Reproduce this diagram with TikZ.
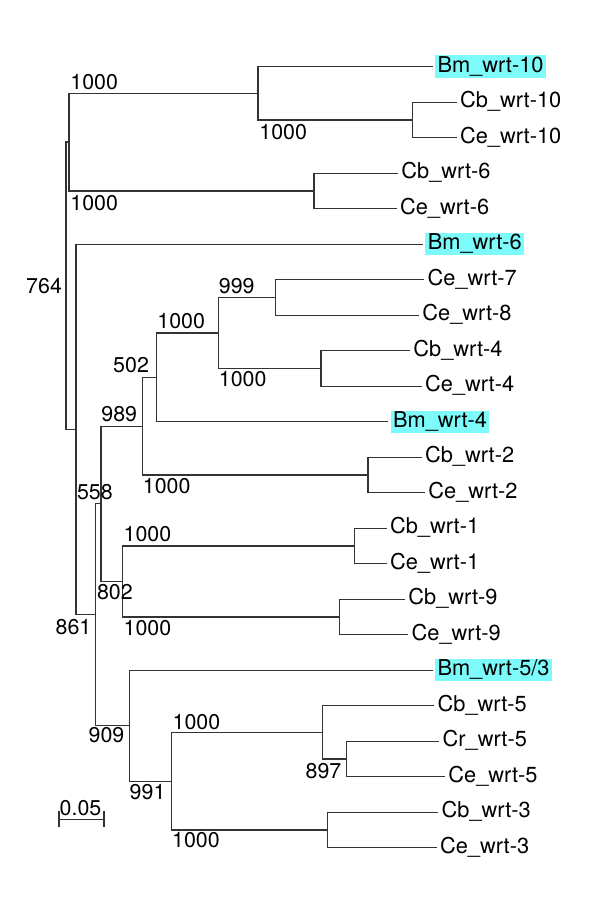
\documentclass[tikz,border=0pt]{standalone}
\usepackage{fontspec}
\setmainfont{TeX Gyre Heros}
\begin{document}
\begin{tikzpicture}[x=0.5pt,y=-0.5pt,
    branch/.style={line width=0.6pt, black!80},
    leaf/.style={anchor=west, inner xsep=1.5pt, inner ysep=0.5pt, text height=7.8pt, text depth=2.4pt, font=\fontsize{10.9}{12}\selectfont},
    hl/.style={leaf, fill=hlColor, inner xsep=1.2pt, outer xsep=1.2pt},
    boot/.style={inner sep=0pt, font=\fontsize{10.7}{12}\selectfont}]
    % Define colors
    \definecolor{hlColor}{RGB}{125,250,250}
    \useasboundingbox (0,0) rectangle (600,903);
    % Internal nodes
    \coordinate (root) at (66,285.8);
    \coordinate (nA) at (69,142.1);
    \coordinate (n10) at (258,93.3);
    \coordinate (n10b) at (412.3,120);
    \coordinate (n6) at (314,191);
    \coordinate (nB) at (76,429.5);
    \coordinate (n861) at (95.7,614.7);
    \coordinate (n558) at (101,503.8);
    \coordinate (n989) at (142.3,426.1);
    \coordinate (n502) at (156.7,377.3);
    \coordinate (n7) at (218.3,333);
    \coordinate (n999) at (275.7,297.5);
    \coordinate (n4) at (321,368.5);
    \coordinate (n2) at (368,475);
    \coordinate (n802) at (122.3,581.5);
    \coordinate (n1) at (354.3,546);
    \coordinate (n9) at (339.3,617);
    \coordinate (n909) at (129.3,725.7);
    \coordinate (n991) at (171.7,781.1);
    \coordinate (n5) at (322.3,732.3);
    \coordinate (n897) at (346.7,759);
    \coordinate (n3) at (327.3,830);
    % Leaves
    \node[hl] (bm10) at (432.7,66.7) {Bm\_wrt-10};
    \node[leaf] (cb10) at (456.7,102.2) {Cb\_wrt-10};
    \node[leaf] (ce10) at (456.7,137.7) {Ce\_wrt-10};
    \node[leaf] (cb6) at (398,173.2) {Cb\_wrt-6};
    \node[leaf] (ce6) at (396.7,208.7) {Ce\_wrt-6};
    \node[hl] (bm6) at (423,244.2) {Bm\_wrt-6};
    \node[leaf] (ce7) at (424.3,279.7) {Ce\_wrt-7};
    \node[leaf] (ce8) at (419,315.2) {Ce\_wrt-8};
    \node[leaf] (cb4) at (410,350.7) {Cb\_wrt-4};
    \node[leaf] (ce4) at (421.7,386.2) {Ce\_wrt-4};
    \node[hl] (bm4) at (388.3,421.7) {Bm\_wrt-4};
    \node[leaf] (cb2) at (421.7,457.2) {Cb\_wrt-2};
    \node[leaf] (ce2) at (425,492.7) {Ce\_wrt-2};
    \node[leaf] (cb1) at (386.7,528.2) {Cb\_wrt-1};
    \node[leaf] (ce1) at (386.7,563.7) {Ce\_wrt-1};
    \node[leaf] (cb9) at (405,599.2) {Cb\_wrt-9};
    \node[leaf] (ce9) at (408.3,634.7) {Ce\_wrt-9};
    \node[hl] (bm53) at (432.7,670.2) {Bm\_wrt-5/3};
    \node[leaf] (cb5) at (434.3,705.7) {Cb\_wrt-5};
    \node[leaf] (cr5) at (439.3,741.2) {Cr\_wrt-5};
    \node[leaf] (ce5) at (445,776.7) {Ce\_wrt-5};
    \node[leaf] (cb3) at (438.3,812.2) {Cb\_wrt-3};
    \node[leaf] (ce3) at (436.7,847.7) {Ce\_wrt-3};
    % Branches
    \draw[branch] (root) |- (nA);
    \draw[branch] (root) |- (nB);
    \draw[branch] (nA) |- (n10);
    \draw[branch] (nA) |- (n6);
    \draw[branch] (n10) |- (bm10.west);
    \draw[branch] (n10) |- (n10b);
    \draw[branch] (n10b) |- (cb10.west);
    \draw[branch] (n10b) |- (ce10.west);
    \draw[branch] (n6) |- (cb6.west);
    \draw[branch] (n6) |- (ce6.west);
    \draw[branch] (nB) |- (bm6.west);
    \draw[branch] (nB) |- (n861);
    \draw[branch] (n861) |- (n558);
    \draw[branch] (n861) |- (n909);
    \draw[branch] (n558) |- (n989);
    \draw[branch] (n558) |- (n802);
    \draw[branch] (n989) |- (n502);
    \draw[branch] (n989) |- (n2);
    \draw[branch] (n502) |- (n7);
    \draw[branch] (n502) |- (bm4.west);
    \draw[branch] (n7) |- (n999);
    \draw[branch] (n7) |- (n4);
    \draw[branch] (n999) |- (ce7.west);
    \draw[branch] (n999) |- (ce8.west);
    \draw[branch] (n4) |- (cb4.west);
    \draw[branch] (n4) |- (ce4.west);
    \draw[branch] (n2) |- (cb2.west);
    \draw[branch] (n2) |- (ce2.west);
    \draw[branch] (n802) |- (n1);
    \draw[branch] (n802) |- (n9);
    \draw[branch] (n1) |- (cb1.west);
    \draw[branch] (n1) |- (ce1.west);
    \draw[branch] (n9) |- (cb9.west);
    \draw[branch] (n9) |- (ce9.west);
    \draw[branch] (n909) |- (bm53.west);
    \draw[branch] (n909) |- (n991);
    \draw[branch] (n991) |- (n5);
    \draw[branch] (n991) |- (n3);
    \draw[branch] (n5) |- (cb5.west);
    \draw[branch] (n5) |- (n897);
    \draw[branch] (n897) |- (cr5.west);
    \draw[branch] (n897) |- (ce5.west);
    \draw[branch] (n3) |- (cb3.west);
    \draw[branch] (n3) |- (ce3.west);
    % Bootstrap values
    \node[boot, anchor=west] (bA1) at (70,81.7) {1000};
    \node[boot, anchor=west] (b10) at (259,131.7) {1000};
    \node[boot, anchor=west] (bA2) at (70,202.7) {1000};
    \node[boot, anchor=east] (b764) at (62.3,285.7) {764};
    \node[boot, anchor=west] (b999) at (218.5,286) {999};
    \node[boot, anchor=west] (b7) at (157,321) {1000};
    \node[boot, anchor=west] (b4) at (218.5,379.3) {1000};
    \node[boot, anchor=east] (b502) at (149.3,365.3) {502};
    \node[boot, anchor=west] (b989) at (101,414) {989};
    \node[boot, anchor=west] (b2) at (142.5,485.7) {1000};
    \node[boot, anchor=west] (b558) at (76.7,491.7) {558};
    \node[boot, anchor=west] (b1) at (123.3,534.3) {1000};
    \node[boot, anchor=west] (b802) at (96.7,592.3) {802};
    \node[boot, anchor=west] (b9) at (123.3,627.7) {1000};
    \node[boot, anchor=east] (b861) at (91.7,626.7) {861};
    \node[boot, anchor=west] (b909) at (88.3,735) {909};
    \node[boot, anchor=west] (b5) at (172.3,721.7) {1000};
    \node[boot, anchor=east] (b897) at (341.7,770.7) {897};
    \node[boot, anchor=west] (b991) at (129.3,791.7) {991};
    \node[boot, anchor=west] (b3) at (171.7,840) {1000};
    % Scale bar
    \node[boot, anchor=west] (scale) at (59.3,808.3) {0.05};
    \coordinate (sb1) at (59,819.3);
    \coordinate (sb2) at (104,819.3);
    \draw[branch] (sb1) -- (sb2);
    \draw[branch] ([yshift=4pt]sb1) -- ([yshift=-4pt]sb1);
    \draw[branch] ([yshift=4pt]sb2) -- ([yshift=-4pt]sb2);
\end{tikzpicture}
\end{document}
